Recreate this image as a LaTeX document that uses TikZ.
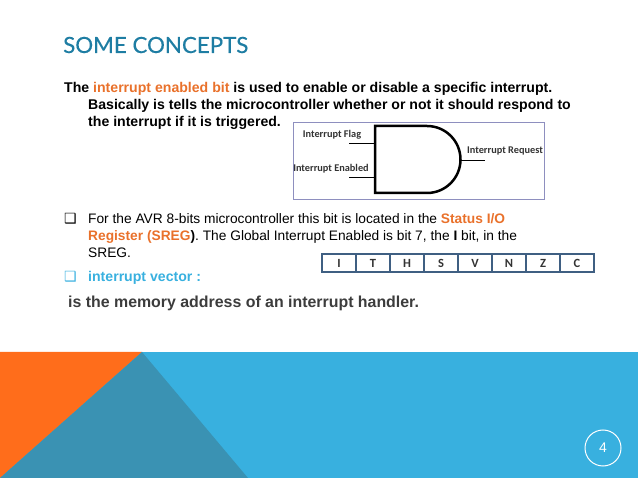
\documentclass[tikz,border=0pt]{standalone}
\usepackage{fontspec}
\setmainfont{Liberation Sans}
\newfontfamily\titlefont[FakeBold=0.35]{Lato}
\newfontfamily\labelfont{Carlito}
\newfontfamily\symbfont{DejaVu Sans}
\definecolor{bandblue}{HTML}{38B0DF}
\definecolor{banddark}{HTML}{3A92B3}
\definecolor{bandorange}{HTML}{FF6D1B}
\definecolor{titleblue}{HTML}{1E7DA3}
\definecolor{textorange}{HTML}{E9712B}
\definecolor{framegrey}{HTML}{8E8FBF}
\definecolor{regblue}{HTML}{3F5F82}
\definecolor{textgrey}{HTML}{3C3C3C}
\tikzset{
  line/.style={anchor=base west,inner sep=0pt,font=\fontsize{13.75}{15}\selectfont},
  bold/.style={line,font=\fontsize{14.1}{15}\selectfont\bfseries},
  tick/.style={anchor=base west,inner sep=0pt,font=\fontsize{14}{14}\symbfont},
  gatelabel/.style={inner sep=0pt,text=black!80,font=\fontsize{10.3}{11}\labelfont\bfseries},
  regcell/.style={minimum width=34pt,minimum height=18pt,inner sep=0pt,draw=regblue,line width=1.3pt,text=black!80,font=\fontsize{12.5}{14}\labelfont\bfseries}
}
\begin{document}
\begin{tikzpicture}[x=1pt,y=-1pt]
\useasboundingbox (0,0) rectangle (638,478);
% the band
\fill[bandblue] (0,352) rectangle (638,478);
\fill[bandorange] (0,352) -- (142,352) -- (0,478) -- cycle;
\fill[banddark] (142,352) -- (248,478) -- (0,478) -- cycle;

% the page number
\node (pagering) at (603,448) [circle,draw=white,line width=1pt,minimum size=36pt,inner sep=0pt,text=white,font=\fontsize{14}{16}\selectfont] {4};

% the heading
\node (heading) at (63,53) [anchor=base west,inner sep=0pt,text=titleblue,font=\fontsize{22.3}{26}\titlefont] {SOME CONCEPTS};

% the text
\node (lineone) at (64,93) [bold] {The \textcolor{textorange}{interrupt enabled bit} is used to enable or disable a specific interrupt.};
\node (linetwo) at (88,110) [bold] {Basically is tells the microcontroller whether or not it should respond to};
\node (linethree) at (88,127) [bold] {the interrupt if it is triggered.};
\node (tickone) at (64,224) [tick] {❑};
\node (linefour) at (88,224) [line] {For the AVR 8-bits microcontroller this bit is located in the \textcolor{textorange}{\bfseries Status I/O}};
\node (linefive) at (88,241) [line] {\textcolor{textorange}{\bfseries Register (SREG}\textbf{)}. The Global Interrupt Enabled is bit 7, the \textbf{I} bit, in the};
\node (linesix) at (88,258) [line] {SREG.};
\node (ticktwo) at (64,282) [tick,text=bandblue] {❑};
\node (lineseven) at (88,282) [bold,text=bandblue] {interrupt vector :};
\node (lineeight) at (68,308) [anchor=base west,inner sep=0pt,text=textgrey,font=\fontsize{15.9}{18}\selectfont\bfseries] {is the memory address of an interrupt handler.};

% the gate
\node (gatebox) at (418.5,161) [draw=framegrey,line width=0.7pt,minimum width=251pt,minimum height=77pt,inner sep=0pt] {};
\coordinate (flagin) at (375,143);
\coordinate (enablein) at (375,177);
\coordinate (flagend) at (349,143);
\coordinate (enableend) at (349,177);
\coordinate (gateout) at (460,160);
\coordinate (requestend) at (485,160);
\draw[line width=2.5pt,line join=miter] (375,126) -- (427,126) arc (-90:90:33.5) -- (375,193) -- cycle;
\draw[line width=0.9pt] (flagend) -- (flagin);
\draw[line width=0.9pt] (enableend) -- (enablein);
\draw[line width=0.9pt] (gateout) -- (requestend);
\node (flaglabel) at (332,135) [gatelabel] {Interrupt Flag};
\node (enablelabel) at (331,169) [gatelabel] {Interrupt Enabled};
\node (requestlabel) at (505,151) [gatelabel] {Interrupt Request};

% the register
\foreach \name [count=\i from 0] in {I,T,H,S,V,N,Z,C}
    {\node (reg\name) at (339+34*\i,263) [regcell] {\name};};
\end{tikzpicture}
\end{document}
